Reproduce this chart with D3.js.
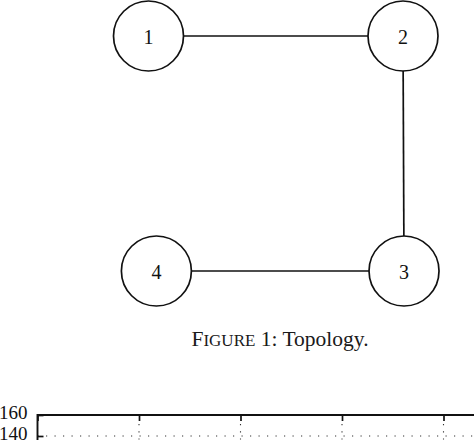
<!DOCTYPE html>
<html>
<head>
<meta charset="utf-8">
<script src="https://cdn.jsdelivr.net/npm/d3@7"></script>
<style>
  html, body { margin: 0; padding: 0; background: #fff; }
  svg { display: block; }
</style>
</head>
<body>
<svg id="chart" width="474" height="440"></svg>
<script>
// ---- Topology data ----
const nodeIds = ["1", "2", "3", "4"];
const nodeGridX = [0, 100, 100.4, 3.1];   // abstract layout units
const nodeGridY = [0, 0, 1, 1];
const edges = [["1", "2"], ["2", "3"], ["3", "4"]];
const captionSmallCapsHead = "F";
const captionSmallCapsTail = "IGURE";
const captionRest = " 1: Topology.";

// ---- Partial plot below (only its top is visible) ----
const yTickValues = [140, 160];
const xTickValues = [0, 20, 40, 60, 80, 100];

const svg = d3.select("#chart");

const gx = d3.scaleLinear().domain([0, 100]).range([148.5, 403]);
const gy = d3.scaleLinear().domain([0, 1]).range([36, 271]);
const R = 35;

const nodes = nodeIds.map((id, i) => ({ id, x: gx(nodeGridX[i]), y: gy(nodeGridY[i]) }));
const byId = new Map(nodes.map(n => [n.id, n]));

const g = svg.append("g");
g.selectAll("line.edge").data(edges).join("line")
  .attr("class", "edge")
  .attr("x1", d => byId.get(d[0]).x).attr("y1", d => byId.get(d[0]).y)
  .attr("x2", d => byId.get(d[1]).x).attr("y2", d => byId.get(d[1]).y)
  .attr("stroke", "#111").attr("stroke-width", 1.7);

const ng = g.selectAll("g.node").data(nodes).join("g")
  .attr("class", "node")
  .attr("transform", d => `translate(${d.x},${d.y})`);
ng.append("circle").attr("r", R)
  .attr("fill", "#fff").attr("stroke", "#111").attr("stroke-width", 1.7);
ng.append("text").text(d => d.id)
  .attr("text-anchor", "middle").attr("dy", "0.38em")
  .attr("font-family", "'Liberation Serif', serif").attr("font-size", 20)
  .attr("fill", "#111");

// caption
const cap = svg.append("text")
  .attr("x", 280).attr("y", 346)
  .attr("text-anchor", "middle")
  .attr("font-family", "'Liberation Serif', serif")
  .attr("font-size", 21.5).attr("fill", "#1a1a1a");
cap.append("tspan").text(captionSmallCapsHead);
cap.append("tspan").attr("font-size", 17).text(captionSmallCapsTail);
cap.append("tspan").text(captionRest);

// partial plot
const x = d3.scaleLinear().domain([0, 100]).range([37.5, 545]);
const y = d3.scaleLinear().domain([0, 160]).range([583, 415]);

const plot = svg.append("g");
// dotted grid
plot.selectAll("line.hgrid").data(yTickValues.filter(v => v < 160)).join("line")
  .attr("x1", x(0)).attr("x2", x(100))
  .attr("y1", d => y(d)).attr("y2", d => y(d))
  .attr("stroke", "#333").attr("stroke-width", 1.1)
  .attr("stroke-dasharray", "1.2 7.3");
plot.selectAll("line.vgrid").data(xTickValues.filter(v => v > 0)).join("line")
  .attr("x1", d => x(d)).attr("x2", d => x(d))
  .attr("y1", y(160) + 9).attr("y2", y(0))
  .attr("stroke", "#333").attr("stroke-width", 1.1)
  .attr("stroke-dasharray", "1.2 6");

// y axis
const yAxis = plot.append("g")
  .attr("transform", `translate(${x(0)},0)`)
  .call(d3.axisLeft(y).tickValues(yTickValues).tickSize(-6).tickPadding(10));
yAxis.select(".domain").remove();
yAxis.selectAll(".tick line").attr("stroke", "#111").attr("stroke-width", 1.7);
yAxis.selectAll(".tick text")
  .attr("font-family", "'Liberation Serif', serif").attr("font-size", 19)
  .attr("fill", "#111").attr("dy", "0.2em");

// top axis (ticks only)
const xTop = plot.append("g")
  .attr("transform", `translate(0,${y(160)})`)
  .call(d3.axisTop(x).tickValues(xTickValues).tickSize(-6).tickFormat(""));
xTop.select(".domain").remove();
xTop.selectAll(".tick line").attr("stroke", "#111").attr("stroke-width", 1.7);

// frame
plot.append("path")
  .attr("d", `M${x(0)},${y(0)}V${y(160)}H${x(100)}`)
  .attr("fill", "none").attr("stroke", "#111").attr("stroke-width", 1.9);
</script>
</body>
</html>
